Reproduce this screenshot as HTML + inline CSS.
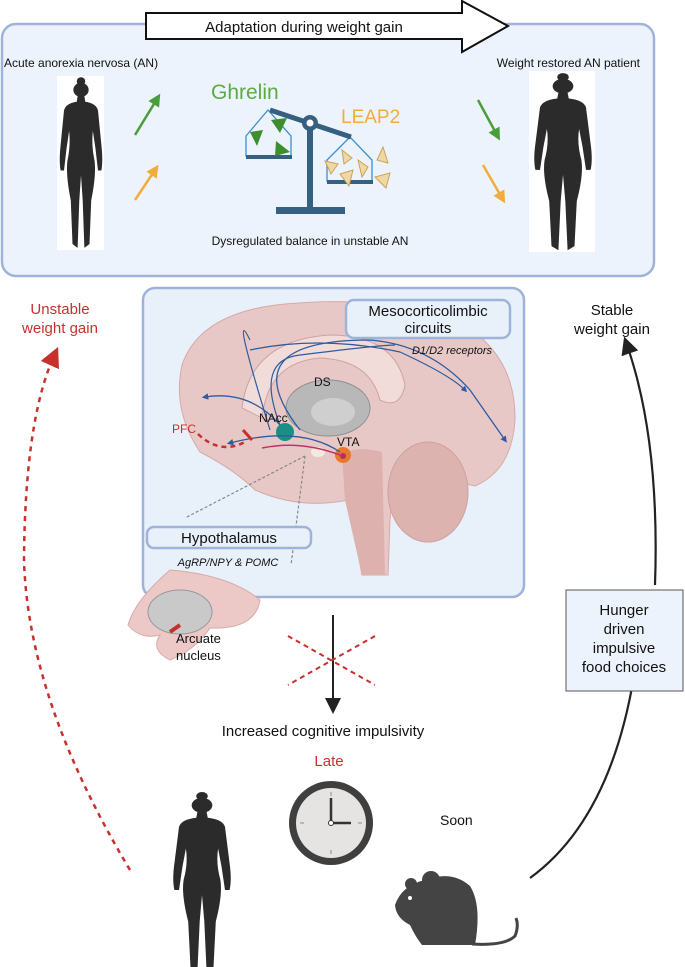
<!DOCTYPE html>
<html><head><meta charset="utf-8"><style>
html,body{margin:0;padding:0;background:#fff}
svg{display:block;font-family:"Liberation Sans",sans-serif}
</style></head><body>
<svg width="685" height="967" viewBox="0 0 685 967">
<defs>
<g id="woman">
<circle cx="0" cy="10" r="9"/>
<circle cx="0" cy="-1" r="5"/>
<path d="M-4,18 L4,18 L5,25 Q18,27 20,36 L24,80 Q26,100 24,112 L20,112 L17,84 L14,62 Q12,80 16,100 Q18,118 12,150 L10,205 L4,210 L2,150 L0,118 L-2,150 L-4,210 L-10,205 L-12,150 Q-18,118 -16,100 Q-12,80 -14,62 L-17,84 L-20,112 L-24,112 Q-26,100 -24,80 L-20,36 Q-18,27 -5,25 Z"/>
</g>
<marker id="ab" viewBox="0 0 10 10" refX="5" refY="5" markerWidth="8" markerHeight="8" orient="auto"><path d="M0,0 L10,5 L0,10 Z" fill="#222"/></marker>
<marker id="ar" viewBox="0 0 10 10" refX="5" refY="5" markerWidth="8" markerHeight="8" orient="auto"><path d="M0,0 L10,5 L0,10 Z" fill="#c8302c"/></marker>
<marker id="ag" viewBox="0 0 10 10" refX="5" refY="5" markerWidth="5" markerHeight="5" orient="auto"><path d="M0,0 L10,5 L0,10 Z" fill="#4a9d3c"/></marker>
<marker id="ao" viewBox="0 0 10 10" refX="5" refY="5" markerWidth="5" markerHeight="5" orient="auto"><path d="M0,0 L10,5 L0,10 Z" fill="#f2ac3a"/></marker>
<marker id="abl" viewBox="0 0 10 10" refX="5" refY="5" markerWidth="5" markerHeight="5" orient="auto"><path d="M0,0 L10,5 L0,10 Z" fill="#2e5c9e"/></marker>
</defs>

<!-- top box -->
<rect x="2" y="24" width="652" height="252" rx="14" fill="#edf3fc" stroke="#9fb3da" stroke-width="2.5"/>
<path d="M146,13 L462,13 L462,1 L508,26 L462,52 L462,39 L146,39 Z" fill="#fff" stroke="#111" stroke-width="2"/>
<text x="304" y="32" font-size="15" text-anchor="middle" fill="#111">Adaptation during weight gain</text>
<text x="4" y="67" font-size="12" fill="#111">Acute anorexia nervosa (AN)</text>
<text x="640" y="67" font-size="12" fill="#111" text-anchor="end">Weight restored AN patient</text>
<rect x="57" y="76" width="47" height="174" fill="#fff"/>
<use href="#woman" transform="translate(81,82) scale(0.85,0.79)" fill="#2b2b2b"/>
<rect x="529" y="71" width="66" height="181" fill="#fff"/>
<use href="#woman" transform="translate(563,78) scale(1.15,0.82)" fill="#2b2b2b"/>
<line x1="135" y1="135" x2="157" y2="99" stroke="#4a9d3c" stroke-width="2.5" marker-end="url(#ag)"/>
<line x1="135" y1="200" x2="155" y2="170" stroke="#f2ac3a" stroke-width="2.5" marker-end="url(#ao)"/>
<line x1="478" y1="100" x2="497" y2="135" stroke="#4a9d3c" stroke-width="2.5" marker-end="url(#ag)"/>
<line x1="483" y1="165" x2="502" y2="198" stroke="#f2ac3a" stroke-width="2.5" marker-end="url(#ao)"/>
<text x="211" y="99" font-size="21" fill="#5bab43">Ghrelin</text>
<text x="341" y="123" font-size="19" fill="#f2ac3a">LEAP2</text>
<!-- scale -->
<path d="M246,136 L268,110 L291,136 L291,156 L246,156 Z" fill="none" stroke="#3a8fd0" stroke-width="1.3"/>
<rect x="246" y="155" width="46" height="4" fill="#35607f"/>
<path d="M327,160 L350,137 L372,160 L372,181 L327,181 Z" fill="none" stroke="#3a8fd0" stroke-width="1.3"/>
<rect x="327" y="180" width="46" height="4" fill="#35607f"/>
<line x1="270" y1="110" x2="351" y2="137" stroke="#35607f" stroke-width="5"/>
<circle cx="310" cy="123" r="8" fill="#35607f"/><circle cx="310" cy="123" r="3.5" fill="#fff"/>
<rect x="307" y="130" width="6" height="78" fill="#35607f"/>
<rect x="276" y="207" width="69" height="7" fill="#35607f"/>
<g fill="#3e8d2f"><path d="M271,120 L287,118 L280,133Z"/><path d="M250,132 L263,130 L257,146Z"/><path d="M276,141 L290,152 L275,156Z"/></g>
<g fill="#eed9a6" stroke="#c9a35a" stroke-width="1"><path d="M342,150 L352,158 L344,164Z"/><path d="M383,147 L388,163 L377,160Z"/><path d="M325,161 L338,164 L331,174Z"/><path d="M358,160 L368,167 L362,177Z"/><path d="M340,174 L353,170 L349,186Z"/><path d="M375,177 L390,173 L386,188Z"/></g>
<text x="310" y="245" font-size="12" text-anchor="middle" fill="#111">Dysregulated balance in unstable AN</text>

<!-- brain box -->
<rect x="143" y="288" width="381" height="309" rx="12" fill="#e8f0fa" stroke="#9fb3da" stroke-width="2.5"/>
<path d="M200,452 Q172,410 182,365 Q200,312 285,304 Q385,295 455,320 Q516,352 515,420 Q512,470 475,486 L440,478 L395,470 L390,520 L388,575 L362,575 L348,500 Q300,510 255,490 Q235,470 200,452 Z" fill="#e8c8c6" stroke="#d7aaa8"/>
<ellipse cx="428" cy="492" rx="40" ry="50" fill="#ddb3b0" stroke="#cfa09d"/>
<path d="M342,455 Q355,445 382,452 L385,575 L362,575 L345,500 Z" fill="#dcb1ae"/>
<path d="M242,408 Q250,340 330,335 Q395,335 405,385 Q400,410 380,400 Q370,360 320,358 Q268,362 262,418 Z" fill="#f2dcda" stroke="#cda3a1"/>
<ellipse cx="328" cy="408" rx="42" ry="28" fill="#b8b8b8" stroke="#8f8f8f"/>
<ellipse cx="333" cy="412" rx="22" ry="14" fill="#cfcfcf"/>
<circle cx="285" cy="432" r="9" fill="#1a8f86"/>
<circle cx="343" cy="455" r="8" fill="#e77a2a"/><circle cx="343" cy="456" r="3" fill="#b33066"/>
<ellipse cx="318" cy="452" rx="7" ry="5" fill="#f3ebdc"/>
<path d="M300,430 Q230,340 370,340 Q430,345 470,390 L505,440" fill="none" stroke="#2e5c9e" stroke-width="1.3" marker-end="url(#abl)"/>
<path d="M280,425 Q255,360 300,355 Q380,345 395,345" fill="none" stroke="#2e5c9e" stroke-width="1.2"/>
<path d="M270,430 Q230,300 250,340" fill="none" stroke="#2e5c9e" stroke-width="1.2"/>
<path d="M250,350 Q320,335 400,352 Q450,375 465,390" fill="none" stroke="#2e5c9e" stroke-width="1.2" marker-end="url(#abl)"/>
<path d="M280,425 Q250,390 205,397" fill="none" stroke="#2e5c9e" stroke-width="1.3" marker-end="url(#abl)"/>
<path d="M340,452 Q300,425 230,443" fill="none" stroke="#2e5c9e" stroke-width="1.3" marker-end="url(#abl)"/>
<path d="M340,455 Q300,440 262,448" fill="none" stroke="#c0306a" stroke-width="1.5"/>
<path d="M198,434 Q220,455 245,442" fill="none" stroke="#c8302c" stroke-width="2.5" stroke-dasharray="5,4"/>
<line x1="243" y1="430" x2="252" y2="440" stroke="#c8302c" stroke-width="3"/>
<text x="172" y="433" font-size="12" fill="#c8302c">PFC</text>
<text x="259" y="422" font-size="12" fill="#111">NAcc</text>
<text x="314" y="386" font-size="12" fill="#111">DS</text>
<text x="337" y="446" font-size="12" fill="#111">VTA</text>
<rect x="346" y="300" width="164" height="38" rx="8" fill="#e8f0fa" stroke="#9fb3da" stroke-width="2.5"/>
<text x="428" y="316" font-size="15" text-anchor="middle" fill="#111">Mesocorticolimbic</text>
<text x="428" y="333" font-size="15" text-anchor="middle" fill="#111">circuits</text>
<text x="452" y="354" font-size="11" font-style="italic" text-anchor="middle" fill="#111">D1/D2 receptors</text>
<line x1="305" y1="456" x2="185" y2="518" stroke="#888" stroke-width="1.2" stroke-dasharray="3,2"/>
<line x1="305" y1="456" x2="291" y2="565" stroke="#888" stroke-width="1.2" stroke-dasharray="3,2"/>
<!-- arcuate -->
<path d="M170,570 Q230,575 260,600 Q255,630 210,628 Q195,650 170,660 Q150,650 160,635 Q140,640 128,625 Q135,600 170,570 Z" fill="#ecc9c6" stroke="#d7aaa8"/>
<ellipse cx="180" cy="612" rx="32" ry="22" fill="#c9c9c9" stroke="#999"/>
<path d="M170,632 L180,625" stroke="#c8302c" stroke-width="4"/>
<rect x="147" y="527" width="164" height="21" rx="7" fill="#e8f0fa" stroke="#9fb3da" stroke-width="2.5"/>
<text x="229" y="543" font-size="15" text-anchor="middle" fill="#111">Hypothalamus</text>
<text x="228" y="566" font-size="11" font-style="italic" text-anchor="middle" fill="#111">AgRP/NPY &amp; POMC</text>
<text x="176" y="643" font-size="13" fill="#111">Arcuate</text>
<text x="176" y="660" font-size="13" fill="#111">nucleus</text>

<!-- middle -->
<line x1="333" y1="615" x2="333" y2="706" stroke="#222" stroke-width="2" marker-end="url(#ab)"/>
<line x1="288" y1="636" x2="375" y2="685" stroke="#c8302c" stroke-width="2" stroke-dasharray="5,4"/>
<line x1="375" y1="636" x2="288" y2="685" stroke="#c8302c" stroke-width="2" stroke-dasharray="5,4"/>
<text x="323" y="736" font-size="15" text-anchor="middle" fill="#111">Increased cognitive impulsivity</text>
<text x="329" y="766" font-size="15" text-anchor="middle" fill="#c8302c">Late</text>
<circle cx="331" cy="823" r="42" fill="#3f3f3f"/>
<circle cx="331" cy="823" r="35" fill="#e6e3e3"/>
<g stroke="#999" stroke-width="1.2">
<line x1="331" y1="792" x2="331" y2="796"/><line x1="331" y1="850" x2="331" y2="854"/>
<line x1="300" y1="823" x2="304" y2="823"/><line x1="358" y1="823" x2="362" y2="823"/>
</g>
<path d="M331,798 L331,823 L351,823" fill="none" stroke="#333" stroke-width="2.5"/>
<circle cx="331" cy="823" r="2.5" fill="#fff" stroke="#333"/>
<text x="440" y="825" font-size="14" fill="#111">Soon</text>

<text x="60" y="314" font-size="15" text-anchor="middle" fill="#c8302c">Unstable</text>
<text x="60" y="333" font-size="15" text-anchor="middle" fill="#c8302c">weight gain</text>
<path d="M130,870 Q28,700 24,560 Q25,420 54,356" fill="none" stroke="#c8302c" stroke-width="2.5" stroke-dasharray="5,5" marker-end="url(#ar)"/>
<text x="612" y="315" font-size="15" text-anchor="middle" fill="#111">Stable</text>
<text x="612" y="334" font-size="15" text-anchor="middle" fill="#111">weight gain</text>
<path d="M655,585 Q660,440 627,345" fill="none" stroke="#222" stroke-width="2.2" marker-end="url(#ab)"/>
<path d="M530,878 Q610,820 634,676" fill="none" stroke="#222" stroke-width="2.2" marker-end="url(#ab)"/>
<rect x="566" y="590" width="117" height="101" fill="#edf3fc" stroke="#555" stroke-width="1"/>
<text x="624" y="615" font-size="15" text-anchor="middle" fill="#111">Hunger</text>
<text x="624" y="634" font-size="15" text-anchor="middle" fill="#111">driven</text>
<text x="624" y="653" font-size="15" text-anchor="middle" fill="#111">impulsive</text>
<text x="624" y="672" font-size="15" text-anchor="middle" fill="#111">food choices</text>

<use href="#woman" transform="translate(202,797) scale(1.15,0.83)" fill="#2b2b2b"/>
<!-- mouse -->
<g fill="#444">
<path d="M395,905 Q402,885 425,880 Q452,870 470,886 Q482,905 475,945 L422,945 Q415,936 410,925 Q396,918 395,905 Z"/>
<circle cx="411" cy="884" r="6"/><circle cx="431" cy="880" r="9"/>
<path d="M472,944 Q505,946 515,936 Q519,926 516,918" fill="none" stroke="#444" stroke-width="3"/>
</g>
<circle cx="410" cy="898" r="2" fill="#fff"/>
</svg>
</body></html>
